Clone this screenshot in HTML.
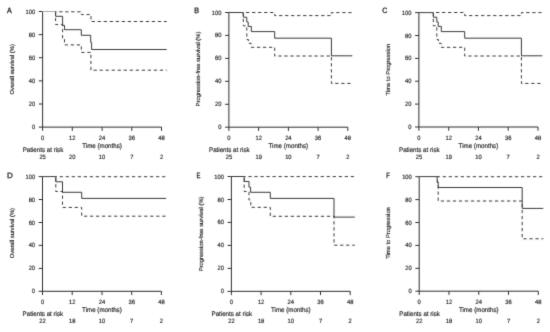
<!DOCTYPE html>
<html><head><meta charset="utf-8"><style>
html,body{margin:0;padding:0;background:#fff;}
body{width:550px;height:332px;overflow:hidden;}
svg{display:block;font-family:"Liberation Sans", Arial, sans-serif;text-rendering:geometricPrecision;}
text{fill:#111;stroke:#111;stroke-width:0.12px;}
</style></head><body>
<svg width="550" height="332" viewBox="0 0 550 332">
<defs><filter id="bl" x="0" y="0" width="550" height="332" filterUnits="userSpaceOnUse"><feConvolveMatrix order="3" kernelMatrix="0.0113 0.0838 0.0113 0.0838 0.6193 0.0838 0.0113 0.0838 0.0113" edgeMode="none" preserveAlpha="false"/></filter><filter id="bt" x="0" y="0" width="550" height="332" filterUnits="userSpaceOnUse"><feConvolveMatrix order="3" kernelMatrix="0.0113 0.0838 0.0113 0.0838 0.6193 0.0838 0.0113 0.0838 0.0113" edgeMode="none" preserveAlpha="false"/></filter></defs>
<rect width="550" height="332" fill="#fff"/>
<g filter="url(#bl)">
<g id="lA"><path d="M42.6,11.5V127.1H161.5" fill="none" stroke="#2e2e2e" stroke-width="1.0"/>
<line x1="38.8" y1="11.5" x2="42.6" y2="11.5" stroke="#2e2e2e" stroke-width="1.0"/>
<line x1="38.8" y1="34.6" x2="42.6" y2="34.6" stroke="#2e2e2e" stroke-width="1.0"/>
<line x1="38.8" y1="57.7" x2="42.6" y2="57.7" stroke="#2e2e2e" stroke-width="1.0"/>
<line x1="38.8" y1="80.9" x2="42.6" y2="80.9" stroke="#2e2e2e" stroke-width="1.0"/>
<line x1="38.8" y1="104.0" x2="42.6" y2="104.0" stroke="#2e2e2e" stroke-width="1.0"/>
<line x1="38.8" y1="127.1" x2="42.6" y2="127.1" stroke="#2e2e2e" stroke-width="1.0"/>
<line x1="42.6" y1="127.1" x2="42.6" y2="130.8" stroke="#2e2e2e" stroke-width="1.0"/>
<line x1="72.3" y1="127.1" x2="72.3" y2="130.8" stroke="#2e2e2e" stroke-width="1.0"/>
<line x1="102.1" y1="127.1" x2="102.1" y2="130.8" stroke="#2e2e2e" stroke-width="1.0"/>
<line x1="131.8" y1="127.1" x2="131.8" y2="130.8" stroke="#2e2e2e" stroke-width="1.0"/>
<line x1="161.5" y1="127.1" x2="161.5" y2="130.8" stroke="#2e2e2e" stroke-width="1.0"/>
<polyline points="42.6,11.5 55.6,11.5" fill="none" stroke="#ababab" stroke-width="1.0"/>
<polyline points="55.6,11.8 81.3,11.8 81.3,14.6 91.0,14.6 91.0,21.5 166.7,21.5" fill="none" stroke="#3a3a3a" stroke-width="1.0" stroke-dasharray="3.25 2.77" stroke-dashoffset="2.41"/>
<polyline points="55.6,11.5 55.6,24.6 62.6,24.6 62.6,39.2 64.5,39.2 64.5,44.9 81.3,44.9 81.3,52.4 90.9,52.4 90.9,70.2 166.7,70.2" fill="none" stroke="#3a3a3a" stroke-width="1.0" stroke-dasharray="3.25 2.77" stroke-dashoffset="5.64"/>
<polyline points="55.6,11.5 55.6,16.3 62.6,16.3 62.6,25.4 64.5,25.4 64.5,29.7 81.3,29.7 81.3,35.3 90.7,35.3 90.7,42.3 91.6,42.3 91.6,49.5 166.7,49.5" fill="none" stroke="#3a3a3a" stroke-width="1.0"/></g>
<g id="lB"><path d="M228.9,12.5V127.2H347.8" fill="none" stroke="#2e2e2e" stroke-width="1.0"/>
<line x1="225.1" y1="12.5" x2="228.9" y2="12.5" stroke="#2e2e2e" stroke-width="1.0"/>
<line x1="225.1" y1="35.4" x2="228.9" y2="35.4" stroke="#2e2e2e" stroke-width="1.0"/>
<line x1="225.1" y1="58.4" x2="228.9" y2="58.4" stroke="#2e2e2e" stroke-width="1.0"/>
<line x1="225.1" y1="81.3" x2="228.9" y2="81.3" stroke="#2e2e2e" stroke-width="1.0"/>
<line x1="225.1" y1="104.3" x2="228.9" y2="104.3" stroke="#2e2e2e" stroke-width="1.0"/>
<line x1="225.1" y1="127.2" x2="228.9" y2="127.2" stroke="#2e2e2e" stroke-width="1.0"/>
<line x1="228.9" y1="127.2" x2="228.9" y2="130.9" stroke="#2e2e2e" stroke-width="1.0"/>
<line x1="258.6" y1="127.2" x2="258.6" y2="130.9" stroke="#2e2e2e" stroke-width="1.0"/>
<line x1="288.4" y1="127.2" x2="288.4" y2="130.9" stroke="#2e2e2e" stroke-width="1.0"/>
<line x1="318.1" y1="127.2" x2="318.1" y2="130.9" stroke="#2e2e2e" stroke-width="1.0"/>
<line x1="347.8" y1="127.2" x2="347.8" y2="130.9" stroke="#2e2e2e" stroke-width="1.0"/>
<polyline points="228.9,12.5 243.3,12.5" fill="none" stroke="#3a3a3a" stroke-width="1.0"/>
<polyline points="243.3,12.5 274.7,12.5 274.7,15.6 331.4,15.6 331.4,12.6 352.3,12.6" fill="none" stroke="#3a3a3a" stroke-width="1.0" stroke-dasharray="3.25 2.77" stroke-dashoffset="3.28"/>
<polyline points="243.3,12.5 243.3,25.8 246.8,25.8 246.8,39.5 248.4,39.5 248.4,43.3 251.2,43.3 251.2,47.3 274.7,47.3 274.7,56.0 331.4,56.0 331.4,83.4 352.3,83.4" fill="none" stroke="#3a3a3a" stroke-width="1.0" stroke-dasharray="3.25 2.77" stroke-dashoffset="5.72"/>
<polyline points="243.3,12.5 243.3,17.2 246.8,17.2 246.8,22.0 248.2,22.0 248.2,26.4 251.3,26.4 251.3,31.6 274.7,31.6 274.7,38.2 331.4,38.2 331.4,55.8 352.3,55.8" fill="none" stroke="#3a3a3a" stroke-width="1.0"/></g>
<g id="lC"><path d="M418.9,12.6V127.0H538.0" fill="none" stroke="#2e2e2e" stroke-width="1.0"/>
<line x1="415.1" y1="12.6" x2="418.9" y2="12.6" stroke="#2e2e2e" stroke-width="1.0"/>
<line x1="415.1" y1="35.5" x2="418.9" y2="35.5" stroke="#2e2e2e" stroke-width="1.0"/>
<line x1="415.1" y1="58.4" x2="418.9" y2="58.4" stroke="#2e2e2e" stroke-width="1.0"/>
<line x1="415.1" y1="81.2" x2="418.9" y2="81.2" stroke="#2e2e2e" stroke-width="1.0"/>
<line x1="415.1" y1="104.1" x2="418.9" y2="104.1" stroke="#2e2e2e" stroke-width="1.0"/>
<line x1="415.1" y1="127.0" x2="418.9" y2="127.0" stroke="#2e2e2e" stroke-width="1.0"/>
<line x1="418.9" y1="127.0" x2="418.9" y2="130.7" stroke="#2e2e2e" stroke-width="1.0"/>
<line x1="448.7" y1="127.0" x2="448.7" y2="130.7" stroke="#2e2e2e" stroke-width="1.0"/>
<line x1="478.4" y1="127.0" x2="478.4" y2="130.7" stroke="#2e2e2e" stroke-width="1.0"/>
<line x1="508.2" y1="127.0" x2="508.2" y2="130.7" stroke="#2e2e2e" stroke-width="1.0"/>
<line x1="538.0" y1="127.0" x2="538.0" y2="130.7" stroke="#2e2e2e" stroke-width="1.0"/>
<polyline points="418.8,12.6 433.3,12.6" fill="none" stroke="#3a3a3a" stroke-width="1.0"/>
<polyline points="433.3,12.5 464.7,12.5 464.7,15.6 521.4,15.6 521.4,12.6 542.3,12.6" fill="none" stroke="#3a3a3a" stroke-width="1.0" stroke-dasharray="3.25 2.77" stroke-dashoffset="3.28"/>
<polyline points="433.3,12.5 433.3,25.8 436.8,25.8 436.8,39.5 438.4,39.5 438.4,43.3 441.2,43.3 441.2,47.3 464.7,47.3 464.7,56.0 521.4,56.0 521.4,83.4 542.3,83.4" fill="none" stroke="#3a3a3a" stroke-width="1.0" stroke-dasharray="3.25 2.77" stroke-dashoffset="5.72"/>
<polyline points="433.3,12.5 433.3,17.2 436.8,17.2 436.8,22.0 438.2,22.0 438.2,26.4 441.3,26.4 441.3,31.6 464.7,31.6 464.7,38.2 521.4,38.2 521.4,55.8 542.3,55.8" fill="none" stroke="#3a3a3a" stroke-width="1.0"/></g>
<g id="lD"><path d="M42.5,176.6V291.3H161.4" fill="none" stroke="#2e2e2e" stroke-width="1.0"/>
<line x1="38.7" y1="176.6" x2="42.5" y2="176.6" stroke="#2e2e2e" stroke-width="1.0"/>
<line x1="38.7" y1="199.5" x2="42.5" y2="199.5" stroke="#2e2e2e" stroke-width="1.0"/>
<line x1="38.7" y1="222.5" x2="42.5" y2="222.5" stroke="#2e2e2e" stroke-width="1.0"/>
<line x1="38.7" y1="245.4" x2="42.5" y2="245.4" stroke="#2e2e2e" stroke-width="1.0"/>
<line x1="38.7" y1="268.4" x2="42.5" y2="268.4" stroke="#2e2e2e" stroke-width="1.0"/>
<line x1="38.7" y1="291.3" x2="42.5" y2="291.3" stroke="#2e2e2e" stroke-width="1.0"/>
<line x1="42.5" y1="291.3" x2="42.5" y2="295.0" stroke="#2e2e2e" stroke-width="1.0"/>
<line x1="72.2" y1="291.3" x2="72.2" y2="295.0" stroke="#2e2e2e" stroke-width="1.0"/>
<line x1="102.0" y1="291.3" x2="102.0" y2="295.0" stroke="#2e2e2e" stroke-width="1.0"/>
<line x1="131.7" y1="291.3" x2="131.7" y2="295.0" stroke="#2e2e2e" stroke-width="1.0"/>
<line x1="161.4" y1="291.3" x2="161.4" y2="295.0" stroke="#2e2e2e" stroke-width="1.0"/>
<polyline points="42.5,176.6 55.8,176.6" fill="none" stroke="#3a3a3a" stroke-width="1.0"/>
<polyline points="55.8,176.7 166.2,176.7" fill="none" stroke="#3a3a3a" stroke-width="1.0" stroke-dasharray="3.25 2.77" stroke-dashoffset="2.14"/>
<polyline points="55.8,176.6 55.8,191.5 62.5,191.5 62.5,207.4 81.7,207.4 81.7,216.2 166.2,216.2" fill="none" stroke="#3a3a3a" stroke-width="1.0" stroke-dasharray="3.25 2.77" stroke-dashoffset="4.48"/>
<polyline points="55.8,176.6 55.8,181.8 62.5,181.8 62.5,192.3 81.7,192.3 81.7,198.4 166.2,198.4" fill="none" stroke="#3a3a3a" stroke-width="1.0"/></g>
<g id="lE"><path d="M231.4,176.5V291.35H350.2" fill="none" stroke="#2e2e2e" stroke-width="1.0"/>
<line x1="227.6" y1="176.5" x2="231.4" y2="176.5" stroke="#2e2e2e" stroke-width="1.0"/>
<line x1="227.6" y1="199.5" x2="231.4" y2="199.5" stroke="#2e2e2e" stroke-width="1.0"/>
<line x1="227.6" y1="222.4" x2="231.4" y2="222.4" stroke="#2e2e2e" stroke-width="1.0"/>
<line x1="227.6" y1="245.4" x2="231.4" y2="245.4" stroke="#2e2e2e" stroke-width="1.0"/>
<line x1="227.6" y1="268.4" x2="231.4" y2="268.4" stroke="#2e2e2e" stroke-width="1.0"/>
<line x1="227.6" y1="291.4" x2="231.4" y2="291.4" stroke="#2e2e2e" stroke-width="1.0"/>
<line x1="231.4" y1="291.35" x2="231.4" y2="295.1" stroke="#2e2e2e" stroke-width="1.0"/>
<line x1="261.1" y1="291.35" x2="261.1" y2="295.1" stroke="#2e2e2e" stroke-width="1.0"/>
<line x1="290.8" y1="291.35" x2="290.8" y2="295.1" stroke="#2e2e2e" stroke-width="1.0"/>
<line x1="320.5" y1="291.35" x2="320.5" y2="295.1" stroke="#2e2e2e" stroke-width="1.0"/>
<line x1="350.2" y1="291.35" x2="350.2" y2="295.1" stroke="#2e2e2e" stroke-width="1.0"/>
<polyline points="231.4,176.5 244.2,176.5" fill="none" stroke="#3a3a3a" stroke-width="1.0"/>
<polyline points="244.2,176.6 354.8,176.6" fill="none" stroke="#3a3a3a" stroke-width="1.0" stroke-dasharray="3.25 2.77" stroke-dashoffset="1.80"/>
<polyline points="244.2,176.5 244.2,191.5 249.0,191.5 249.0,200.0 250.8,200.0 250.8,207.3 270.3,207.3 270.3,216.3 334.0,216.3 334.0,245.2 354.8,245.2" fill="none" stroke="#3a3a3a" stroke-width="1.0" stroke-dasharray="3.25 2.77" stroke-dashoffset="3.94"/>
<polyline points="244.2,176.5 244.2,181.5 249.0,181.5 249.0,187.2 250.6,187.2 250.6,192.3 270.3,192.3 270.3,198.4 334.0,198.4 334.0,217.1 354.8,217.1" fill="none" stroke="#3a3a3a" stroke-width="1.0"/></g>
<g id="lF"><path d="M419.2,176.7V291.2H538.3" fill="none" stroke="#2e2e2e" stroke-width="1.0"/>
<line x1="415.4" y1="176.7" x2="419.2" y2="176.7" stroke="#2e2e2e" stroke-width="1.0"/>
<line x1="415.4" y1="199.6" x2="419.2" y2="199.6" stroke="#2e2e2e" stroke-width="1.0"/>
<line x1="415.4" y1="222.5" x2="419.2" y2="222.5" stroke="#2e2e2e" stroke-width="1.0"/>
<line x1="415.4" y1="245.4" x2="419.2" y2="245.4" stroke="#2e2e2e" stroke-width="1.0"/>
<line x1="415.4" y1="268.3" x2="419.2" y2="268.3" stroke="#2e2e2e" stroke-width="1.0"/>
<line x1="415.4" y1="291.2" x2="419.2" y2="291.2" stroke="#2e2e2e" stroke-width="1.0"/>
<line x1="419.2" y1="291.2" x2="419.2" y2="294.9" stroke="#2e2e2e" stroke-width="1.0"/>
<line x1="449.0" y1="291.2" x2="449.0" y2="294.9" stroke="#2e2e2e" stroke-width="1.0"/>
<line x1="478.8" y1="291.2" x2="478.8" y2="294.9" stroke="#2e2e2e" stroke-width="1.0"/>
<line x1="508.5" y1="291.2" x2="508.5" y2="294.9" stroke="#2e2e2e" stroke-width="1.0"/>
<line x1="538.3" y1="291.2" x2="538.3" y2="294.9" stroke="#2e2e2e" stroke-width="1.0"/>
<polyline points="419.2,176.6 437.2,176.6" fill="none" stroke="#3a3a3a" stroke-width="1.0"/>
<polyline points="437.2,176.7 543.3,176.7" fill="none" stroke="#3a3a3a" stroke-width="1.0" stroke-dasharray="3.25 2.77" stroke-dashoffset="0.52"/>
<polyline points="437.4,176.6 437.4,182.5 438.2,182.5 438.2,201.0 522.2,201.0 522.2,238.8 543.3,238.8" fill="none" stroke="#3a3a3a" stroke-width="1.0" stroke-dasharray="3.25 2.77" stroke-dashoffset="2.30"/>
<polyline points="437.2,176.6 437.2,182.2 438.2,182.2 438.2,187.5 522.2,187.5 522.2,208.4 543.3,208.4" fill="none" stroke="#3a3a3a" stroke-width="1.0"/></g>
</g>
<g filter="url(#bt)">
<g id="tA"><text transform="translate(7.0,12.7) scale(0.93,1)" font-size="7.7" style="stroke-width:0.25px">A</text>
<text transform="translate(14.0,69.3) rotate(-90)" text-anchor="middle" font-size="5.8">Overall survival (%)</text>
<text transform="translate(35.20,13.55) scale(1,1.08)" text-anchor="end" font-size="5.8">100</text>
<text transform="translate(35.20,36.67) scale(1,1.08)" text-anchor="end" font-size="5.8">80</text>
<text transform="translate(35.20,59.79) scale(1,1.08)" text-anchor="end" font-size="5.8">60</text>
<text transform="translate(35.20,82.91) scale(1,1.08)" text-anchor="end" font-size="5.8">40</text>
<text transform="translate(35.20,106.03) scale(1,1.08)" text-anchor="end" font-size="5.8">20</text>
<text transform="translate(35.20,129.15) scale(1,1.08)" text-anchor="end" font-size="5.8">0</text>
<text transform="translate(42.60,140.00) scale(1,1.08)" text-anchor="middle" font-size="5.8">0</text>
<text transform="translate(42.60,158.70) scale(1,1.08)" text-anchor="middle" font-size="5.8">25</text>
<text transform="translate(72.33,140.00) scale(1,1.08)" text-anchor="middle" font-size="5.8">12</text>
<text transform="translate(72.33,158.70) scale(1,1.08)" text-anchor="middle" font-size="5.8">20</text>
<text transform="translate(102.05,140.00) scale(1,1.08)" text-anchor="middle" font-size="5.8">24</text>
<text transform="translate(102.05,158.70) scale(1,1.08)" text-anchor="middle" font-size="5.8">10</text>
<text transform="translate(131.78,140.00) scale(1,1.08)" text-anchor="middle" font-size="5.8">36</text>
<text transform="translate(131.78,158.70) scale(1,1.08)" text-anchor="middle" font-size="5.8">7</text>
<text transform="translate(161.50,140.00) scale(1,1.08)" text-anchor="middle" font-size="5.8">48</text>
<text transform="translate(161.50,158.70) scale(1,1.08)" text-anchor="middle" font-size="5.8">2</text>
<text transform="translate(102.05,148.00) scale(1,1.08)" text-anchor="middle" font-size="6.2">Time (months)</text>
<text transform="translate(22.70,151.60) scale(1,1.08)" font-size="6.2">Patients at risk</text></g>
<g id="tB"><text transform="translate(194.3,12.7) scale(0.94,1)" font-size="7.7" style="stroke-width:0.25px">B</text>
<text transform="translate(200.2,69.0) rotate(-90)" text-anchor="middle" font-size="5.8">Progression-free survival (%)</text>
<text transform="translate(221.50,14.55) scale(1,1.08)" text-anchor="end" font-size="5.8">100</text>
<text transform="translate(221.50,37.49) scale(1,1.08)" text-anchor="end" font-size="5.8">80</text>
<text transform="translate(221.50,60.43) scale(1,1.08)" text-anchor="end" font-size="5.8">60</text>
<text transform="translate(221.50,83.37) scale(1,1.08)" text-anchor="end" font-size="5.8">40</text>
<text transform="translate(221.50,106.31) scale(1,1.08)" text-anchor="end" font-size="5.8">20</text>
<text transform="translate(221.50,129.25) scale(1,1.08)" text-anchor="end" font-size="5.8">0</text>
<text transform="translate(228.90,140.10) scale(1,1.08)" text-anchor="middle" font-size="5.8">0</text>
<text transform="translate(228.90,158.80) scale(1,1.08)" text-anchor="middle" font-size="5.8">25</text>
<text transform="translate(258.62,140.10) scale(1,1.08)" text-anchor="middle" font-size="5.8">12</text>
<text transform="translate(258.62,158.80) scale(1,1.08)" text-anchor="middle" font-size="5.8">19</text>
<text transform="translate(288.35,140.10) scale(1,1.08)" text-anchor="middle" font-size="5.8">24</text>
<text transform="translate(288.35,158.80) scale(1,1.08)" text-anchor="middle" font-size="5.8">10</text>
<text transform="translate(318.07,140.10) scale(1,1.08)" text-anchor="middle" font-size="5.8">36</text>
<text transform="translate(318.07,158.80) scale(1,1.08)" text-anchor="middle" font-size="5.8">7</text>
<text transform="translate(347.80,140.10) scale(1,1.08)" text-anchor="middle" font-size="5.8">48</text>
<text transform="translate(347.80,158.80) scale(1,1.08)" text-anchor="middle" font-size="5.8">2</text>
<text transform="translate(288.35,148.10) scale(1,1.08)" text-anchor="middle" font-size="6.2">Time (months)</text>
<text transform="translate(209.00,151.70) scale(1,1.08)" font-size="6.2">Patients at risk</text></g>
<g id="tC"><text transform="translate(382.2,13.2) scale(0.9,1)" font-size="7.7" style="stroke-width:0.25px">C</text>
<text transform="translate(389.8,69.6) rotate(-90)" text-anchor="middle" font-size="5.8">Time to Progression</text>
<text transform="translate(411.50,14.65) scale(1,1.08)" text-anchor="end" font-size="5.8">100</text>
<text transform="translate(411.50,37.53) scale(1,1.08)" text-anchor="end" font-size="5.8">80</text>
<text transform="translate(411.50,60.41) scale(1,1.08)" text-anchor="end" font-size="5.8">60</text>
<text transform="translate(411.50,83.29) scale(1,1.08)" text-anchor="end" font-size="5.8">40</text>
<text transform="translate(411.50,106.17) scale(1,1.08)" text-anchor="end" font-size="5.8">20</text>
<text transform="translate(411.50,129.05) scale(1,1.08)" text-anchor="end" font-size="5.8">0</text>
<text transform="translate(418.90,139.90) scale(1,1.08)" text-anchor="middle" font-size="5.8">0</text>
<text transform="translate(418.90,158.60) scale(1,1.08)" text-anchor="middle" font-size="5.8">25</text>
<text transform="translate(448.67,139.90) scale(1,1.08)" text-anchor="middle" font-size="5.8">12</text>
<text transform="translate(448.67,158.60) scale(1,1.08)" text-anchor="middle" font-size="5.8">19</text>
<text transform="translate(478.45,139.90) scale(1,1.08)" text-anchor="middle" font-size="5.8">24</text>
<text transform="translate(478.45,158.60) scale(1,1.08)" text-anchor="middle" font-size="5.8">10</text>
<text transform="translate(508.23,139.90) scale(1,1.08)" text-anchor="middle" font-size="5.8">36</text>
<text transform="translate(508.23,158.60) scale(1,1.08)" text-anchor="middle" font-size="5.8">7</text>
<text transform="translate(538.00,139.90) scale(1,1.08)" text-anchor="middle" font-size="5.8">48</text>
<text transform="translate(538.00,158.60) scale(1,1.08)" text-anchor="middle" font-size="5.8">2</text>
<text transform="translate(478.45,147.90) scale(1,1.08)" text-anchor="middle" font-size="6.2">Time (months)</text>
<text transform="translate(399.00,151.50) scale(1,1.08)" font-size="6.2">Patients at risk</text></g>
<g id="tD"><text transform="translate(6.9,177.7) scale(1.05,1)" font-size="7.7" style="stroke-width:0.25px">D</text>
<text transform="translate(14.0,233.1) rotate(-90)" text-anchor="middle" font-size="5.8">Overall survival (%)</text>
<text transform="translate(35.10,178.65) scale(1,1.08)" text-anchor="end" font-size="5.8">100</text>
<text transform="translate(35.10,201.59) scale(1,1.08)" text-anchor="end" font-size="5.8">80</text>
<text transform="translate(35.10,224.53) scale(1,1.08)" text-anchor="end" font-size="5.8">60</text>
<text transform="translate(35.10,247.47) scale(1,1.08)" text-anchor="end" font-size="5.8">40</text>
<text transform="translate(35.10,270.41) scale(1,1.08)" text-anchor="end" font-size="5.8">20</text>
<text transform="translate(35.10,293.35) scale(1,1.08)" text-anchor="end" font-size="5.8">0</text>
<text transform="translate(42.50,304.20) scale(1,1.08)" text-anchor="middle" font-size="5.8">0</text>
<text transform="translate(42.50,322.90) scale(1,1.08)" text-anchor="middle" font-size="5.8">22</text>
<text transform="translate(72.22,304.20) scale(1,1.08)" text-anchor="middle" font-size="5.8">12</text>
<text transform="translate(72.22,322.90) scale(1,1.08)" text-anchor="middle" font-size="5.8">18</text>
<text transform="translate(101.95,304.20) scale(1,1.08)" text-anchor="middle" font-size="5.8">24</text>
<text transform="translate(101.95,322.90) scale(1,1.08)" text-anchor="middle" font-size="5.8">10</text>
<text transform="translate(131.68,304.20) scale(1,1.08)" text-anchor="middle" font-size="5.8">36</text>
<text transform="translate(131.68,322.90) scale(1,1.08)" text-anchor="middle" font-size="5.8">7</text>
<text transform="translate(161.40,304.20) scale(1,1.08)" text-anchor="middle" font-size="5.8">48</text>
<text transform="translate(161.40,322.90) scale(1,1.08)" text-anchor="middle" font-size="5.8">2</text>
<text transform="translate(101.95,312.20) scale(1,1.08)" text-anchor="middle" font-size="6.2">Time (months)</text>
<text transform="translate(22.60,315.80) scale(1,1.08)" font-size="6.2">Patients at risk</text></g>
<g id="tE"><text transform="translate(196.6,177.7) scale(0.76,1)" font-size="7.7" style="stroke-width:0.25px">E</text>
<text transform="translate(202.7,233.9) rotate(-90)" text-anchor="middle" font-size="5.8">Progression-free survival (%)</text>
<text transform="translate(224.00,178.55) scale(1,1.08)" text-anchor="end" font-size="5.8">100</text>
<text transform="translate(224.00,201.52) scale(1,1.08)" text-anchor="end" font-size="5.8">80</text>
<text transform="translate(224.00,224.49) scale(1,1.08)" text-anchor="end" font-size="5.8">60</text>
<text transform="translate(224.00,247.46) scale(1,1.08)" text-anchor="end" font-size="5.8">40</text>
<text transform="translate(224.00,270.43) scale(1,1.08)" text-anchor="end" font-size="5.8">20</text>
<text transform="translate(224.00,293.40) scale(1,1.08)" text-anchor="end" font-size="5.8">0</text>
<text transform="translate(231.40,304.25) scale(1,1.08)" text-anchor="middle" font-size="5.8">0</text>
<text transform="translate(231.40,322.95) scale(1,1.08)" text-anchor="middle" font-size="5.8">22</text>
<text transform="translate(261.10,304.25) scale(1,1.08)" text-anchor="middle" font-size="5.8">12</text>
<text transform="translate(261.10,322.95) scale(1,1.08)" text-anchor="middle" font-size="5.8">18</text>
<text transform="translate(290.80,304.25) scale(1,1.08)" text-anchor="middle" font-size="5.8">24</text>
<text transform="translate(290.80,322.95) scale(1,1.08)" text-anchor="middle" font-size="5.8">10</text>
<text transform="translate(320.50,304.25) scale(1,1.08)" text-anchor="middle" font-size="5.8">36</text>
<text transform="translate(320.50,322.95) scale(1,1.08)" text-anchor="middle" font-size="5.8">7</text>
<text transform="translate(350.20,304.25) scale(1,1.08)" text-anchor="middle" font-size="5.8">48</text>
<text transform="translate(350.20,322.95) scale(1,1.08)" text-anchor="middle" font-size="5.8">2</text>
<text transform="translate(290.80,312.25) scale(1,1.08)" text-anchor="middle" font-size="6.2">Time (months)</text>
<text transform="translate(211.50,315.85) scale(1,1.08)" font-size="6.2">Patients at risk</text></g>
<g id="tF"><text transform="translate(386.3,177.7) scale(0.76,1)" font-size="7.7" style="stroke-width:0.25px">F</text>
<text transform="translate(390.2,233.0) rotate(-90)" text-anchor="middle" font-size="5.8">Time to Progression</text>
<text transform="translate(411.80,178.75) scale(1,1.08)" text-anchor="end" font-size="5.8">100</text>
<text transform="translate(411.80,201.65) scale(1,1.08)" text-anchor="end" font-size="5.8">80</text>
<text transform="translate(411.80,224.55) scale(1,1.08)" text-anchor="end" font-size="5.8">60</text>
<text transform="translate(411.80,247.45) scale(1,1.08)" text-anchor="end" font-size="5.8">40</text>
<text transform="translate(411.80,270.35) scale(1,1.08)" text-anchor="end" font-size="5.8">20</text>
<text transform="translate(411.80,293.25) scale(1,1.08)" text-anchor="end" font-size="5.8">0</text>
<text transform="translate(419.20,304.10) scale(1,1.08)" text-anchor="middle" font-size="5.8">0</text>
<text transform="translate(419.20,322.80) scale(1,1.08)" text-anchor="middle" font-size="5.8">22</text>
<text transform="translate(448.97,304.10) scale(1,1.08)" text-anchor="middle" font-size="5.8">12</text>
<text transform="translate(448.97,322.80) scale(1,1.08)" text-anchor="middle" font-size="5.8">18</text>
<text transform="translate(478.75,304.10) scale(1,1.08)" text-anchor="middle" font-size="5.8">24</text>
<text transform="translate(478.75,322.80) scale(1,1.08)" text-anchor="middle" font-size="5.8">10</text>
<text transform="translate(508.52,304.10) scale(1,1.08)" text-anchor="middle" font-size="5.8">36</text>
<text transform="translate(508.52,322.80) scale(1,1.08)" text-anchor="middle" font-size="5.8">7</text>
<text transform="translate(538.30,304.10) scale(1,1.08)" text-anchor="middle" font-size="5.8">48</text>
<text transform="translate(538.30,322.80) scale(1,1.08)" text-anchor="middle" font-size="5.8">2</text>
<text transform="translate(478.75,312.10) scale(1,1.08)" text-anchor="middle" font-size="6.2">Time (months)</text>
<text transform="translate(399.30,315.70) scale(1,1.08)" font-size="6.2">Patients at risk</text></g>
</g></svg>
</body></html>
